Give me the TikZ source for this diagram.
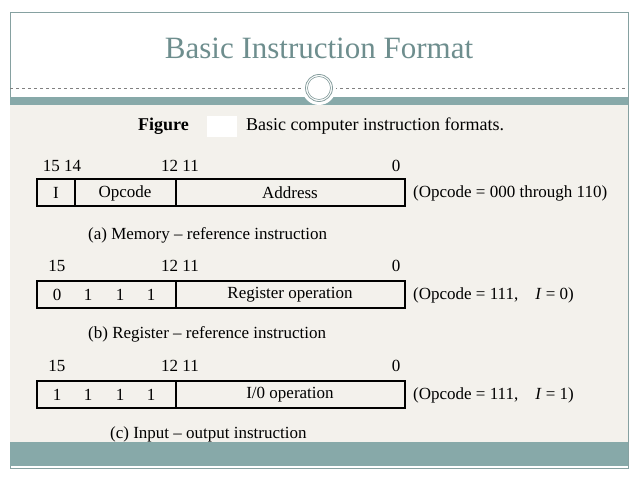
\documentclass[tikz,border=0pt]{standalone}
\usepackage{fontspec}
\setmainfont{Liberation Serif}
\begin{document}
\begin{tikzpicture}[x=1pt,y=-1pt,
  txt/.style={inner sep=0pt,font=\fontsize{17}{19}\selectfont},
  bx/.style={draw=black,line width=1.2pt}]
\definecolor{tealg}{HTML}{87A9A9}
\definecolor{titlec}{HTML}{6E8E8E}
\definecolor{paper}{HTML}{F3F1EC}
\useasboundingbox (0,0) rectangle (638,479);
\fill[white] (0,0) rectangle (638,479);
% slide frame
\draw[tealg!80!gray,line width=0.6pt] (10,12) rectangle (628,468);
\fill[paper] (10,105) rectangle (628,445);
\fill[tealg] (10,97) rectangle (628,105);
\fill[tealg] (10,442) rectangle (628,466);
\draw[gray,dashed,line width=0.4pt] (10,88) -- (628,88);
\fill[white] (319,88) circle (17);
\draw[tealg!70!gray,line width=0.8pt] (319,88) circle (13.5);
\draw[tealg!70!gray,line width=0.6pt] (319,88) circle (11.5);
\node[font=\fontsize{31}{34}\selectfont,text=titlec] (title) at (319,48) {Basic Instruction Format};
% figure caption
\node[txt,anchor=west,font=\fontsize{18}{20}\selectfont] (fig) at (138,126) {\textbf{Figure}};
\fill[white] (207,116) rectangle (237,137);
\node[txt,anchor=west,font=\fontsize{18}{20}\selectfont] (figt) at (246,126) {Basic computer instruction formats.};
% row a
\node[txt] (a15) at (62,166) {15 14};
\node[txt] (a12) at (180,166) {12 11};
\node[txt] (a0) at (396,166) {0};
\draw[bx] (37,179) rectangle (405,206);
\draw[bx] (75,179) -- (75,206);
\draw[bx] (176,179) -- (176,206);
\node[txt] (ai) at (56,193) {I};
\node[txt] (aop) at (125,193) {Opcode};
\node[txt] (aad) at (290,193) {Address};
\node[txt,anchor=west] (ar) at (413,193) {(Opcode = 000 through 110)};
\node[txt,anchor=west] (ac) at (88,235) {(a) Memory -- reference instruction};
% row b
\node[txt] (b15) at (57,266) {15};
\node[txt] (b12) at (180,266) {12 11};
\node[txt] (b0) at (396,266) {0};
\draw[bx] (37,281) rectangle (405,308);
\draw[bx] (176,281) -- (176,308);
\node[txt] (b1) at (57,295) {0};
\node[txt] (b2) at (88,295) {1};
\node[txt] (b3) at (120,295) {1};
\node[txt] (b4) at (151,295) {1};
\node[txt] (bro) at (290,295) {Register operation};
\node[txt,anchor=west] (br) at (413,295) {(Opcode = 111,\hspace{1em}\textit{I} = 0)};
\node[txt,anchor=west] (bc) at (88,334) {(b) Register -- reference instruction};
% row c
\node[txt] (c15) at (57,366) {15};
\node[txt] (c12) at (180,366) {12 11};
\node[txt] (c0) at (396,366) {0};
\draw[bx] (37,381) rectangle (405,408);
\draw[bx] (176,381) -- (176,408);
\node[txt] (c1) at (57,395) {1};
\node[txt] (c2) at (88,395) {1};
\node[txt] (c3) at (120,395) {1};
\node[txt] (c4) at (151,395) {1};
\node[txt] (cio) at (290,395) {I/0 operation};
\node[txt,anchor=west] (cr) at (413,395) {(Opcode = 111,\hspace{1em}\textit{I} = 1)};
\node[txt,anchor=west] (cc) at (110,434) {(c) Input -- output instruction};
\end{tikzpicture}
\end{document}
